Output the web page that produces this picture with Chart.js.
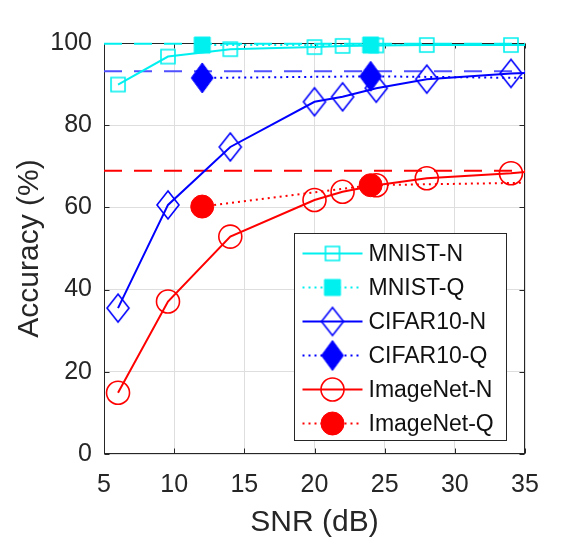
<!DOCTYPE html>
<html><head><meta charset="utf-8">
<script src="https://cdn.jsdelivr.net/npm/chart.js@4/dist/chart.umd.min.js"></script>
<style>html,body{margin:0;padding:0;background:#fff;overflow:hidden}#wrap{width:585px;height:547px;position:relative}</style>
</head><body><div id="wrap"><canvas id="c" width="585" height="547"></canvas></div>
<script>
// ---- data ----
const snrN = [6, 9.56, 14, 20, 22, 24.4, 28, 34, 35];
const snrQ = [12, 24, 35];
const mnistN = [89.9, 96.7, 98.5, 99.0, 99.3, 99.4, 99.5, 99.5, 99.5];
const mnistQ = [99.5, 99.5, 99.5];
const cifarN = [35.5, 60.6, 74.7, 85.7, 86.9, 89.0, 91.2, 92.6, 92.7];
const cifarQ = [91.5, 91.9, 91.5];
const imagenetN = [14.9, 37.1, 52.9, 61.8, 63.8, 65.4, 67.1, 68.3, 68.6];
const imagenetQ = [60.2, 65.4, 66.0];
const baselineSnr = [5, 35];
const mnistBase = [99.8, 99.8];
const cifarBase = [93.1, 93.1];
const imagenetBase = [68.9, 68.9];
const xTicks = [5, 10, 15, 20, 25, 30, 35];
const yTicks = [0, 20, 40, 60, 80, 100];
const legendNames = ['MNIST-N', 'MNIST-Q', 'CIFAR10-N', 'CIFAR10-Q', 'ImageNet-N', 'ImageNet-Q'];

const CYAN = '#00f0f0', BLUE = '#0000ff', RED = '#ff0000', AX = '#262626';
const FONT = "'Liberation Sans', Arial, Helvetica, sans-serif";

function pts(xs, ys) { return xs.map((x, i) => ({x: x, y: ys[i]})); }
function marker(kind, w, h, color, filled, lw) {
  const c = document.createElement('canvas');
  c.width = Math.ceil(w + 4); c.height = Math.ceil(h + 4);
  const g = c.getContext('2d');
  const cx = c.width / 2, cy = c.height / 2;
  g.beginPath();
  if (kind === 'square') g.rect(cx - w / 2, cy - h / 2, w, h);
  else { g.moveTo(cx, cy - h / 2); g.lineTo(cx + w / 2, cy); g.lineTo(cx, cy + h / 2); g.lineTo(cx - w / 2, cy); g.closePath(); }
  if (filled) { g.fillStyle = color; g.fill(); }
  g.strokeStyle = color; g.lineWidth = lw; g.stroke();
  return c;
}
const sqOpen = marker('square', 14, 14, CYAN, false, 1.6);
const sqFill = marker('square', 16, 16, CYAN, true, 1);
const diaOpen = marker('diamond', 22, 28, BLUE, false, 1.6);
const diaFill = marker('diamond', 22, 30, BLUE, true, 1);
function radii(n, r) { return Array.from({length: n}, (_, i) => i === n - 1 ? 0 : r); }

const base = {showLine: true, clip: false, pointHoverRadius: 0};
const datasets = [
  Object.assign({}, base, {label: legendNames[0], data: pts(snrN, mnistN), borderColor: CYAN, borderWidth: 2,
    pointStyle: sqOpen, pointRadius: radii(snrN.length, 7), order: 6}),
  Object.assign({}, base, {label: legendNames[1], data: pts(snrQ, mnistQ), borderColor: CYAN, borderWidth: 2, borderDash: [2, 4],
    pointStyle: sqFill, pointRadius: radii(snrQ.length, 8), order: 3}),
  Object.assign({}, base, {label: legendNames[2], data: pts(snrN, cifarN), borderColor: BLUE, borderWidth: 2,
    pointStyle: diaOpen, pointRadius: radii(snrN.length, 11), order: 5}),
  Object.assign({}, base, {label: legendNames[3], data: pts(snrQ, cifarQ), borderColor: BLUE, borderWidth: 2, borderDash: [2, 4],
    pointStyle: diaFill, pointRadius: radii(snrQ.length, 11), order: 2}),
  Object.assign({}, base, {label: legendNames[4], data: pts(snrN, imagenetN), borderColor: RED, borderWidth: 2,
    pointStyle: 'circle', pointRadius: radii(snrN.length, 11.5), pointBorderWidth: 1.6, pointBorderColor: RED,
    pointBackgroundColor: 'rgba(0,0,0,0)', order: 4}),
  Object.assign({}, base, {label: legendNames[5], data: pts(snrQ, imagenetQ), borderColor: RED, borderWidth: 2, borderDash: [2, 4],
    pointStyle: 'circle', pointRadius: radii(snrQ.length, 11.5), pointBorderWidth: 1, pointBorderColor: RED,
    pointBackgroundColor: RED, order: 1}),
  Object.assign({}, base, {label: 'mnist-base', data: pts(baselineSnr, mnistBase), borderColor: CYAN, borderWidth: 2, borderDash: [18, 12], pointRadius: 0, order: 7}),
  Object.assign({}, base, {label: 'cifar-base', data: pts(baselineSnr, cifarBase), borderColor: '#5050ff', borderWidth: 2, borderDash: [18, 12], pointRadius: 0, order: 7}),
  Object.assign({}, base, {label: 'imagenet-base', data: pts(baselineSnr, imagenetBase), borderColor: RED, borderWidth: 2, borderDash: [18, 12], pointRadius: 0, order: 7})
];

const frame = {
  id: 'frame',
  beforeDatasetsDraw(chart) {
    const {ctx, chartArea: a, scales: {x, y}} = chart;
    ctx.save();
    ctx.strokeStyle = AX; ctx.lineWidth = 1;
    const L = Math.round(a.left) + 0.5, R = Math.round(a.right) - 0.5, T = Math.round(a.top) + 0.5, B = Math.round(a.bottom) - 0.5;
    ctx.strokeRect(L, T, R - L, B - T);
    ctx.beginPath();
    xTicks.forEach(v => { const p = Math.round(x.getPixelForValue(v)) + 0.5; ctx.moveTo(p, B); ctx.lineTo(p, B - 5); ctx.moveTo(p, T); ctx.lineTo(p, T + 5); });
    yTicks.forEach(v => { const p = Math.round(y.getPixelForValue(v)) + 0.5; ctx.moveTo(L, p); ctx.lineTo(L + 5, p); ctx.moveTo(R, p); ctx.lineTo(R - 5, p); });
    ctx.stroke();
    ctx.restore();
  }
};

const legendBox = {
  id: 'legendBox',
  afterDatasetsDraw(chart) {
    const {ctx, chartArea: a} = chart;
    const bx = a.left + 190.5, by = a.top + 190.5, bw = 212, bh = 207;
    ctx.save();
    ctx.fillStyle = '#fff'; ctx.fillRect(bx, by, bw, bh);
    ctx.strokeStyle = AX; ctx.lineWidth = 1; ctx.strokeRect(bx, by, bw, bh);
    ctx.font = '23px ' + FONT; ctx.textBaseline = 'middle'; ctx.textAlign = 'left';
    for (let i = 0; i < 6; i++) {
      const ds = chart.data.datasets[i];
      const yy = by + 20 + i * 34;
      ctx.save();
      ctx.strokeStyle = ds.borderColor; ctx.lineWidth = ds.borderWidth;
      ctx.setLineDash(ds.borderDash || []);
      ctx.beginPath(); ctx.moveTo(bx + 8, yy); ctx.lineTo(bx + 68, yy); ctx.stroke();
      ctx.setLineDash([]);
      ctx.fillStyle = ds.pointBackgroundColor || 'rgba(0,0,0,0)';
      ctx.strokeStyle = ds.pointBorderColor || ds.borderColor;
      ctx.lineWidth = ds.pointBorderWidth || 1;
      Chart.helpers.drawPoint(ctx, {pointStyle: ds.pointStyle, radius: ds.pointRadius[0], borderWidth: ds.pointBorderWidth || 1, rotation: 0}, bx + 38, yy);
      ctx.restore();
      ctx.fillStyle = '#111';
      ctx.fillText(ds.label, bx + 74, yy + 1);
    }
    ctx.restore();
  }
};

new Chart(document.getElementById('c'), {
  type: 'scatter',
  data: {datasets: datasets},
  options: {
    responsive: false, animation: false, devicePixelRatio: 1,
    layout: {padding: {left: 0, top: 43, right: 60, bottom: 0}},
    plugins: {legend: {display: false}, tooltip: {enabled: false}},
    scales: {
      x: {
        type: 'linear', min: 5, max: 35,
        afterFit(s) { s.height = 93; },
        afterBuildTicks(s) { s.ticks = xTicks.map(v => ({value: v})); },
        grid: {color: '#dedede', lineWidth: 1, drawTicks: false},
        border: {display: false},
        ticks: {font: {size: 25, family: FONT}, color: AX, padding: 16, maxRotation: 0},
        title: {display: true, text: 'SNR (dB)', font: {size: 30, family: FONT}, color: AX, padding: {top: 0, bottom: 6}}
      },
      y: {
        type: 'linear', min: 0, max: 100,
        afterFit(s) { s.width = 104; },
        afterBuildTicks(s) { s.ticks = yTicks.map(v => ({value: v})); },
        grid: {color: '#dedede', lineWidth: 1, drawTicks: false},
        border: {display: false},
        ticks: {font: {size: 25, family: FONT}, color: AX, padding: 12},
        title: {display: true, text: 'Accuracy (%)', font: {size: 30, family: FONT}, color: AX, padding: {top: 12, bottom: 0}}
      }
    }
  },
  plugins: [frame, legendBox]
});
</script>
</body></html>
